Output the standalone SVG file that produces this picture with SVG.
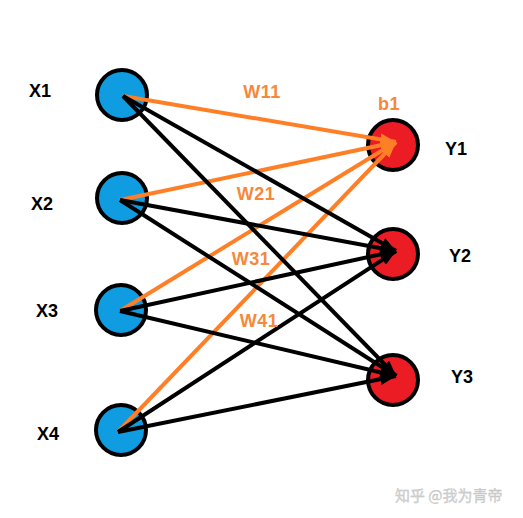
<svg xmlns="http://www.w3.org/2000/svg" width="523" height="518" viewBox="0 0 523 518">
<style>
.in{fill:#0f9ce0;stroke:#000;stroke-width:4}
.out{fill:#ec1c24;stroke:#000;stroke-width:4}
.lbl{font-family:"Liberation Sans",Arial,sans-serif;font-weight:bold;font-size:18px;fill:#000;text-anchor:middle}
.w{font-family:"Liberation Sans",Arial,sans-serif;font-weight:bold;font-size:18px;fill:#f5883a;text-anchor:middle;letter-spacing:0.5px}
.k{stroke:#000;stroke-width:4;fill:none;marker-end:url(#ak)}
.o{stroke:#ff7f27;stroke-width:4;fill:none;marker-end:url(#ao)}
.wm{font-family:"Noto Sans CJK SC","Liberation Sans",sans-serif;font-size:15px;fill:#d4d4d4;stroke:#bdbdbd;stroke-width:0.3}
</style>
<defs>
<marker id="ak" markerUnits="userSpaceOnUse" markerWidth="18" markerHeight="14" refX="16" refY="6" orient="auto">
<path d="M0,0 L16,6 L0,12 Z" fill="#000"/>
</marker>
<marker id="ao" markerUnits="userSpaceOnUse" markerWidth="18" markerHeight="14" refX="16" refY="6" orient="auto">
<path d="M0,0 L16,6 L0,12 Z" fill="#ff7f27"/>
</marker>
</defs>
<rect width="523" height="518" fill="#fff"/>
<g id="node-X1"><circle class="in" cx="122" cy="95" r="25"/><text class="lbl" x="40" y="97">X1</text></g>
<g id="node-X2"><circle class="in" cx="122" cy="198" r="25"/><text class="lbl" x="42" y="210">X2</text></g>
<g id="node-X3"><circle class="in" cx="121" cy="310" r="25"/><text class="lbl" x="47" y="317">X3</text></g>
<g id="node-X4"><circle class="in" cx="121" cy="430" r="25"/><text class="lbl" x="48" y="440">X4</text></g>
<g id="node-Y1"><circle class="out" cx="393" cy="145" r="25"/><text class="lbl" x="456" y="155">Y1</text><text class="w" x="389" y="110">b1</text></g>
<g id="node-Y2"><circle class="out" cx="393" cy="254" r="25"/><text class="lbl" x="460" y="262">Y2</text></g>
<g id="node-Y3"><circle class="out" cx="393" cy="380" r="25"/><text class="lbl" x="462" y="383">Y3</text></g>
<g id="connectors">
<line class="o" x1="123" y1="96" x2="396" y2="142"/>
<line class="o" x1="120" y1="200" x2="396" y2="142"/>
<line class="o" x1="120" y1="311" x2="396" y2="142"/>
<line class="o" x1="118" y1="432" x2="396" y2="142"/>
<line class="k" x1="123" y1="96" x2="396" y2="251"/>
<line class="k" x1="123" y1="96" x2="396" y2="376"/>
<line class="k" x1="120" y1="200" x2="396" y2="251"/>
<line class="k" x1="120" y1="200" x2="396" y2="376"/>
<line class="k" x1="120" y1="311" x2="396" y2="251"/>
<line class="k" x1="120" y1="311" x2="396" y2="376"/>
<line class="k" x1="118" y1="432" x2="396" y2="251"/>
<line class="k" x1="118" y1="432" x2="396" y2="376"/>
<text class="w" x="262" y="98">W11</text>
<text class="w" x="256" y="200">W21</text>
<text class="w" x="251" y="265">W31</text>
<text class="w" x="259" y="327">W41</text>
</g>
<text class="wm" x="395" y="501">知乎 @我为青帝</text>
</svg>
